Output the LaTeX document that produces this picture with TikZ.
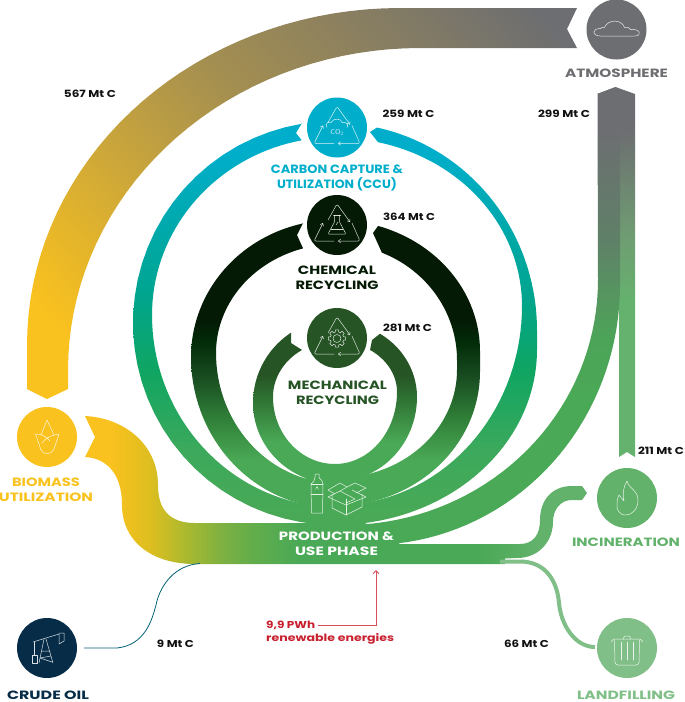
\documentclass[tikz,border=0pt]{standalone}
\usepackage{fontspec}
\usepackage{graphicx}
\usetikzlibrary{arrows.meta}
\newfontfamily\capfam{Poppins}[UprightFont=* Bold]
\definecolor{cyanc}{HTML}{00AECB}
\definecolor{tealA}{HTML}{00A591}
\definecolor{tealB}{HTML}{0FA562}
\definecolor{tealC}{HTML}{3CA95C}
\definecolor{gr}{HTML}{4AA956}
\definecolor{blk}{HTML}{041A05}
\definecolor{chA}{HTML}{032C09}
\definecolor{chB}{HTML}{1B5023}
\definecolor{chC}{HTML}{2F7E37}
\definecolor{mec}{HTML}{265425}
\definecolor{meA}{HTML}{2F7434}
\definecolor{gry}{HTML}{6D6E71}
\definecolor{mnA}{HTML}{5F8068}
\definecolor{mnB}{HTML}{55975F}
\definecolor{mnC}{HTML}{4CA458}
\definecolor{rtA}{HTML}{6F9E72}
\definecolor{rtB}{HTML}{65B16E}
\definecolor{yel}{HTML}{FAC21E}
\definecolor{ylA}{HTML}{DDBE20}
\definecolor{ylB}{HTML}{A9B92F}
\definecolor{ylC}{HTML}{80B141}
\definecolor{ylD}{HTML}{61AD4B}
\definecolor{inc}{HTML}{63B26C}
\definecolor{lnd}{HTML}{81BF88}
\definecolor{oil}{HTML}{062C47}
\definecolor{red1}{HTML}{C8202F}
\definecolor{red2}{HTML}{D9505A}
\definecolor{txt}{HTML}{111111}
\pgfdeclareverticalshading{ccuS}{100bp}{color(0bp)=(gr);color(37.96bp)=(gr);color(42.95bp)=(tealC);color(48.65bp)=(tealB);color(54.35bp)=(tealA);color(64.32bp)=(cyanc);color(100bp)=(cyanc)}
\pgfdeclareverticalshading{chemS}{100bp}{color(0bp)=(gr);color(42.2bp)=(gr);color(45.3bp)=(chC);color(47.93bp)=(chB);color(50.6bp)=(chA);color(52.2bp)=(blk);color(100bp)=(blk)}
\pgfdeclareverticalshading{mechS}{100bp}{color(0bp)=(gr);color(43.5bp)=(gr);color(46.51bp)=(meA);color(48.29bp)=(mec);color(100bp)=(mec)}
\pgfdeclareverticalshading{mainS}{100bp}{color(0bp)=(gr);color(46.5bp)=(gr);color(50.78bp)=(mnC);color(53.63bp)=(mnB);color(57.91bp)=(mnA);color(65.74bp)=(gry);color(100bp)=(gry)}
\pgfdeclareverticalshading{rightS}{100bp}{color(0bp)=(rtB);color(50.78bp)=(rtB);color(53.63bp)=(rtB);color(57.91bp)=(rtA);color(65.74bp)=(gry);color(100bp)=(gry)}
\pgfdeclarehorizontalshading{barS}{100bp}{color(0bp)=(yel);color(33.03bp)=(yel);color(35.95bp)=(ylA);color(38.65bp)=(ylB);color(41.06bp)=(ylC);color(43.47bp)=(ylD);color(46.9bp)=(gr);color(60.04bp)=(gr);color(64.42bp)=(inc);color(100bp)=(inc)}
\newcommand{\ribbon}[2]{\begin{scope}\clip #2;\shade[shading=#1] (0,0) rectangle (685,702);\end{scope}}
\newcommand{\wt}[2]{\resizebox{#1pt}{\height}{#2}}
\tikzset{
  qa/.style n args={6}{insert path={-- plot[domain=#5:#6,samples=36,variable=\ang] ({#1+#3*cos(\ang)},{#2+#4*sin(\ang)})}},
  disc/.style={circle,minimum size=60pt,inner sep=0pt,draw=none},
  ic/.style={draw=white,line width=0.5pt,opacity=0.85,line join=round,line cap=round},
  barb/.style={-{Straight Barb[length=2.2pt,width=3.6pt]}},
  numlab/.style={inner sep=0pt,anchor=base,text=txt,font=\capfam\fontsize{10}{12}\selectfont},
  caplab/.style={inner sep=0pt,anchor=base,font=\capfam\fontsize{12}{15}\selectfont},
  twolab/.style={inner sep=0pt,align=center,font=\capfam\fontsize{12}{15}\selectfont},
  recyc/.pic={
    \draw[ic,barb,rounded corners=2pt] (-9,-5) -- (0,-21) -- (13,-3);
    \draw[ic,barb,rounded corners=2pt] (15,-2) -- (23,16) -- (1,16);
    \draw[ic,barb,rounded corners=2pt] (-3,16) -- (-23,16) -- (-14,-2);
  },
}
\begin{document}
\begin{tikzpicture}[x=1pt,y=-1pt]
\useasboundingbox (0,0) rectangle (685,702);
% top ribbon biomass <- atmosphere
\begin{scope}
\clip (27,389) [qa={400}{345}{373}{337}{180}{270}] -- (577,8) -- (567,29) -- (577,48) [qa={420}{370}{352}{322}{270}{180}] -- (68,389) -- (47,399) -- cycle;
\shade[bottom color=yel,top color=gry,middle color=yel!40!gry,shading angle=-48] (0,0) rectangle (685,440);
\end{scope}
% main ribbon from atmosphere, two parts
\ribbon{rightS}{(615.5,87) -- (635,94) -- (635,457) -- (627,452) -- (619,457) -- (619,94) -- (597,94) -- cycle}
\ribbon{mainS}{(616,87) -- (597.5,94) -- (598,280) [qa={345}{280}{253}{245}{0}{85.5}] -- (365,548) [qa={370}{285}{250}{260}{83.8}{0}] -- (620,94) -- cycle}
% bar with biomass tail and incineration head
\ribbon{barS}{(85,416) .. controls (125,418) and (158,445) .. (158,485) .. controls (158,510) and (170,523) .. (195,523) -- (365,523) -- (400,544) -- (520,544) .. controls (533,544) and (540,535) .. (540,520) .. controls (540,500) and (552,486) .. (572,486) -- (582,486) -- (587,493) -- (582,500) -- (572,500) .. controls (560,500) and (553,510) .. (553,522) .. controls (553,540) and (540,558) .. (517,558) -- (505,558.5) -- (505,564) -- (195,564) .. controls (150,564) and (122,540) .. (122,505) .. controls (122,472) and (105,458) .. (85,457) -- (95,437) -- cycle}
% rings
\ribbon{ccuS}{(302,123) [qa={335}{323}{202}{202}{260.6}{90}] [qa={335}{350}{202}{175}{90}{0}] [qa={335}{330}{202}{207}{360}{282}] -- (370,132) [qa={337}{306}{185}{168}{282.8}{360}] [qa={337}{306}{185}{199}{0}{90}] [qa={337}{315}{185}{192}{90}{180}] [qa={337}{315}{185}{178}{180}{259}] -- (296,133) -- cycle}
\ribbon{chemS}{(303,223) [qa={335}{357}{144}{137}{257.2}{180}] [qa={335}{357}{144}{151}{180}{90}] [qa={335}{372}{145}{134}{90}{0}] [qa={335}{351}{145}{131}{360}{287.3}] -- (373,233) [qa={336}{360}{121}{116}{292.3}{360}] [qa={336}{370}{121}{108}{0}{90}] [qa={337}{353}{121}{130}{90}{180}] [qa={337}{353}{121}{109}{180}{253.7}] -- (297,235) -- cycle}
\ribbon{mechS}{(291,333) [qa={337}{403}{84}{84}{236.8}{180}] [qa={337}{403}{84}{81}{180}{90}] [qa={337}{397}{80}{84}{90}{0}] [qa={337}{397}{80}{75}{360}{302.5}] -- (372,340) [qa={335}{392}{62}{51}{304.4}{360}] [qa={335}{392}{62}{72}{0}{90}] [qa={335}{397}{62}{67}{90}{180}] [qa={335}{397}{62}{55.5}{180}{237.9}] -- (291,343) -- cycle}
\fill[gr] (306,470) rectangle (364,530);
% landfill strand
\draw[lnd,line width=4pt] (500,561.5) -- (520,561.5) .. controls (545,561.5) and (557,580) .. (559,603) .. controls (561,625) and (575,647) .. (595,647);
% discs
\node[disc,fill=gry] (atm) at (616.5,29.5) {};
\node[disc,fill=cyanc] (ccu) at (337,127.5) {};
\node[disc,fill=blk] (chem) at (337,225) {};
\node[disc,fill=mec] (mech) at (337,338) {};
\node[disc,fill=yel] (bio) at (47,437) {};
\node[disc,fill=inc] (incin) at (627,498) {};
\node[disc,fill=lnd] (land) at (627,648) {};
\node[disc,fill=oil] (crude) at (47,648) {};
% icons
\pic at (ccu) {recyc};
\pic at (chem) {recyc};
\pic at (mech) {recyc};
\begin{scope}[shift={(ccu)}]
\draw[ic] (-10,0) .. controls (-13,-5) and (-7,-6) .. (-6,-5) .. controls (-4,-10) and (5,-9) .. (5,-5) .. controls (9,-6) and (12,-3) .. (10,0);
\node[inner sep=0pt,text=white,opacity=0.8,font=\sffamily\fontsize{7}{8}\selectfont] (co2) at (0,4.5) {CO\textsubscript{2}};
\end{scope}
\begin{scope}[shift={(chem)}]
\draw[ic,rounded corners=1pt] (-2.5,-10) -- (-2.5,-3) -- (-9,9) -- (9,9) -- (2.5,-3) -- (2.5,-10);
\draw[ic] (-3.5,-10) -- (3.5,-10) (-6,4) -- (6,4);
\draw[ic] (-1,0) -- (1,-3);
\end{scope}
\begin{scope}[shift={(mech)}]
\draw[ic] (0,0.5) circle (4);
\foreach \a in {0,45,...,315}
  \draw[ic,shift={(0,0.5)},rotate=\a] (-1.8,-6.5) -- (-1.5,-8.7) -- (1.5,-8.7) -- (1.8,-6.5) -- (3.32,-5.87);
\end{scope}
\begin{scope}[shift={(atm)}]
\draw[ic] (-16,6.5) .. controls (-25,6.5) and (-25,-1) .. (-16,-1) .. controls (-15,-3) and (-13,-2) .. (-12,-2) .. controls (-9,-10) and (5,-11) .. (8,-2) .. controls (11,-3) and (13,-2) .. (14,0) .. controls (24,-1) and (26,6.5) .. (18,6.5) -- cycle;
\end{scope}
\begin{scope}[shift={(incin)}]
\draw[ic] (0,-17) .. controls (2,-9) and (11,-8) .. (11,2) .. controls (11,11) and (5,17) .. (-1,17) .. controls (-8,17) and (-11,11) .. (-10,6) .. controls (-10,2) and (-9,-1) .. (-8,-3) -- (-3,3) .. controls (-5,-5) and (-3,-12) .. (0,-17) -- cycle;
\end{scope}
\begin{scope}[shift={(land)}]
\draw[ic,rounded corners=2pt] (-15.5,-6) -- (-15,-9) -- (15,-9) -- (15.5,-6);
\draw[ic,rounded corners=1pt] (-3.5,-9) -- (-3,-12) -- (3,-12) -- (3.5,-9);
\draw[ic,rounded corners=3pt] (-12.5,-8) -- (-12,17) -- (12,17) -- (12.5,-8);
\draw[ic] (-6,-6) -- (-6,12) (0,-6) -- (0,12) (6,-6) -- (6,12);
\end{scope}
\begin{scope}[shift={(bio)}]
\draw[ic] (-6,-2) -- (0,-17) -- (7,-2);
\draw[ic] (-11.5,-3) .. controls (-6,-3) and (-1,-1) .. (3,4);
\draw[ic] (12,-3) .. controls (6,-2) and (-1,0) .. (-5,6);
\draw[ic] (-11.5,-3) -- (-6,13) .. controls (-4,18) and (5,18) .. (7,12) -- (12,-3);
\end{scope}
\begin{scope}[shift={(crude)}]
\draw[ic] (-14,-6) -- (12,-14) (12,-15) -- (17,-15) -- (17,-7) -- (12,-4) -- (12,-14);
\draw[ic] (-15,7) rectangle (-10,15);
\draw[ic] (-12.5,-6) -- (-12.5,7);
\draw[ic] (-3,-9) -- (-8,15) (-1,-9) -- (6,15) (-7,10) -- (4,8) (-7,10) -- (5,14) (-5,3) -- (3,3);
\end{scope}
% bottle
\draw[ic] (314,481) .. controls (314,479) and (315,479) .. (315,477) -- (315,474) -- (319,474) -- (319,477) .. controls (319,479) and (323,480) .. (323,484) -- (322.5,513) -- (311.5,513) -- (311,484) .. controls (311,483) and (314,482) .. (314,481);
\draw[ic] (311,484) -- (323,484) (311,494) -- (323,494);
\fill[white,opacity=0.85] (317,486) -- (319,490) arc (0:-180:2) -- cycle;
% box
\draw[ic] (332,494) -- (332,508) -- (346,515) -- (362,507) -- (362,494);
\draw[ic] (346,499) -- (346,515);
\draw[ic] (328,497) -- (340,491) -- (355,499) -- (346,503);
\draw[ic] (328,497) -- (346,505) -- (366,497) -- (352,490);
\draw[ic] (340,483) -- (328,490) -- (335,494);
\draw[ic] (340,483) -- (347,487) -- (355,483) -- (366,488) -- (356,493);
\draw[ic] (347,487) -- (340,491);
% labels
\node[numlab] (n567) at (90,97.5) {\wt{52}{567 Mt C}};
\node[numlab] (n259) at (408.5,117.5) {\wt{52}{259 Mt C}};
\node[numlab] (n364) at (409,220.5) {\wt{52}{364 Mt C}};
\node[numlab] (n281) at (407.5,331.5) {\wt{49}{281 Mt C}};
\node[numlab] (n299) at (564,117.5) {\wt{52}{299 Mt C}};
\node[numlab] (n211) at (661,454.5) {\wt{46}{211 Mt C}};
\node[numlab] (n9) at (175.5,647.5) {\wt{37}{9 Mt C}};
\node[numlab] (n66) at (526.5,647.5) {\wt{45}{66 Mt C}};
\node[caplab,text=gry] (latm) at (616.5,77.5) {\wt{103}{ATMOSPHERE}};
\node[twolab,text=cyanc] (lccu) at (337,178) {\wt{132}{CARBON CAPTURE \&}\\\wt{120}{UTILIZATION (CCU)}};
\node[twolab,text=blk] (lchem) at (337,277.5) {\wt{78}{CHEMICAL}\\\wt{83}{RECYCLING}};
\node[twolab,text=mec] (lmech) at (337.5,392.5) {\wt{99}{MECHANICAL}\\\wt{83}{RECYCLING}};
\node[twolab,text=white] (lprod) at (336.5,544) {\wt{115}{PRODUCTION \&}\\\wt{83}{USE PHASE}};
\node[twolab,text=yel] (lbio) at (46,489.5) {\wt{68}{BIOMASS}\\\wt{94}{UTILIZATION}};
\node[caplab,text=inc] (linc) at (626,546.5) {\wt{108}{INCINERATION}};
\node[caplab,text=lnd] (llan) at (626,699) {\wt{98}{LANDFILLING}};
\node[caplab,text=oil] (loil) at (48,699) {\wt{82}{CRUDE OIL}};
\node[numlab,text=red1,anchor=base west] (pwh) at (266,628.5) {\wt{49}{9,9 PWh}};
\node[numlab,text=red1,anchor=base west] (ren) at (266,641.5) {\wt{128}{renewable energies}};
% connectors
\coordinate (crudeend) at (200,563.5);
\coordinate (crudestart) at (84,648);
\coordinate (barpoint) at (376,570);
\draw[oil!75!cyan,line width=0.8pt] (crudestart) -- (117,648) .. controls (145,645) and (152,620) .. (156,605) .. controls (160,585) and (175,565) .. (crudeend);
\draw[red2,line width=0.9pt,-{Straight Barb[length=3pt,width=6pt]}] (pwh.east) ++(3,0) -| (barpoint);
\end{tikzpicture}
\end{document}
